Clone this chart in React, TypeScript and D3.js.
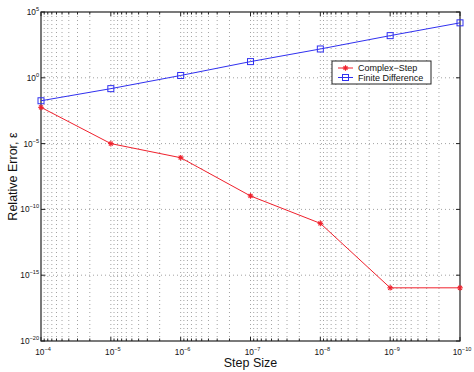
import React from 'react';
import * as d3 from 'd3';

// step sizes, largest to smallest (x axis runs from 1e-4 down to 1e-10)
const stepSizes = [1e-4, 1e-5, 1e-6, 1e-7, 1e-8, 1e-9, 1e-10];
const complexStep = [5.7e-3, 1.0e-5, 8.5e-7, 1.05e-9, 8.7e-12, 1.1e-16, 1.1e-16];
const finiteDifference = [1.8e-2, 1.5e-1, 1.5, 17, 155, 1600, 15000];

const xTickExps = [-4, -5, -6, -7, -8, -9, -10];
const yTickExps = [5, 0, -5, -10, -15, -20];

const seriesNames = ['Complex\u2212Step', 'Finite Difference'];
const red = '#f0202c';
const blue = '#3030f0';
const font = '"Liberation Sans", Arial, Helvetica, sans-serif';

const W = 474;
const H = 372;
const margin = { left: 41, right: 14, top: 12, bottom: 31 };

const Pow: React.FC<{ x: number; y: number; exp: number; anchor: 'middle' | 'end' }> = ({ x, y, exp, anchor }) => (
  <text x={x} y={y} textAnchor={anchor} fontFamily={font} fontSize={8.3} fill="#111">
    10<tspan fontSize={5.6} dy={-4}>{exp < 0 ? '\u2212' + Math.abs(exp) : exp}</tspan>
  </text>
);

const App: React.FC = () => {
  const x = d3.scaleLog().domain([1e-4, 1e-10]).range([margin.left, W - margin.right]);
  const y = d3.scaleLog().domain([1e-20, 1e5]).range([H - margin.bottom, margin.top]);
  const [x0, x1] = x.range();
  const [y0, y1] = y.range();

  const minorX: number[] = [];
  for (let e = -10; e < -4; e++) {
    for (let m = 2; m <= 9; m++) minorX.push(m * Math.pow(10, e));
  }

  const line = d3.line<number>()
    .x((_, i) => x(stepSizes[i]))
    .y(d => y(d));

  const gridStyle = { stroke: '#8a8a8a', strokeWidth: 0.8, strokeDasharray: '1,3' };

  const star = (cx: number, cy: number, key: number) => {
    const r = 2.8;
    return (
      <g key={key} stroke={red} strokeWidth={1.1}>
        <line x1={cx - r} y1={cy} x2={cx + r} y2={cy} />
        <line x1={cx} y1={cy - r} x2={cx} y2={cy + r} />
        <line x1={cx - r * 0.7} y1={cy - r * 0.7} x2={cx + r * 0.7} y2={cy + r * 0.7} />
        <line x1={cx - r * 0.7} y1={cy + r * 0.7} x2={cx + r * 0.7} y2={cy - r * 0.7} />
      </g>
    );
  };
  const square = (cx: number, cy: number, key: number) => (
    <rect key={key} x={cx - 3} y={cy - 3} width={6} height={6} fill="none" stroke={blue} strokeWidth={1} />
  );

  const legX = 332;
  const legY = 61;

  return (
    <svg width={W} height={H} style={{ position: 'absolute', left: 0, top: 0, background: '#fff' }}>
      {/* grid */}
      <g>
        {minorX.map((v, i) => (
          <line key={'mx' + i} x1={x(v)} x2={x(v)} y1={y1} y2={y0} style={gridStyle} />
        ))}
        {xTickExps.slice(1, -1).map(e => (
          <line key={'gx' + e} x1={x(Math.pow(10, e))} x2={x(Math.pow(10, e))} y1={y1} y2={y0} style={gridStyle} />
        ))}
        {yTickExps.slice(1, -1).map(e => (
          <line key={'gy' + e} x1={x0} x2={x1} y1={y(Math.pow(10, e))} y2={y(Math.pow(10, e))} style={gridStyle} />
        ))}
      </g>

      {/* ticks */}
      <g stroke="#222" strokeWidth={1}>
        {xTickExps.map(e => {
          const px = x(Math.pow(10, e));
          return (
            <g key={'tx' + e}>
              <line x1={px} x2={px} y1={y0} y2={y0 - 4} />
              <line x1={px} x2={px} y1={y1} y2={y1 + 4} />
            </g>
          );
        })}
        {minorX.map((v, i) => (
          <g key={'tmx' + i}>
            <line x1={x(v)} x2={x(v)} y1={y0} y2={y0 - 2.5} />
            <line x1={x(v)} x2={x(v)} y1={y1} y2={y1 + 2.5} />
          </g>
        ))}
        {yTickExps.map(e => {
          const py = y(Math.pow(10, e));
          return (
            <g key={'ty' + e}>
              <line x1={x0} x2={x0 + 4} y1={py} y2={py} />
              <line x1={x1} x2={x1 - 4} y1={py} y2={py} />
            </g>
          );
        })}
      </g>

      {/* frame */}
      <rect x={x0} y={y1} width={x1 - x0} height={y0 - y1} fill="none" stroke="#222" strokeWidth={1.2} />

      {/* series */}
      <path d={line(finiteDifference) ?? ''} fill="none" stroke={blue} strokeWidth={1} />
      <path d={line(complexStep) ?? ''} fill="none" stroke={red} strokeWidth={1} />
      {finiteDifference.map((v, i) => square(x(stepSizes[i]), y(v), i))}
      {complexStep.map((v, i) => star(x(stepSizes[i]), y(v), i))}

      {/* tick labels */}
      {xTickExps.map(e => (
        <Pow key={'lx' + e} x={x(Math.pow(10, e)) + 2} y={y0 + 13.5} exp={e} anchor="middle" />
      ))}
      {yTickExps.map(e => (
        <Pow key={'ly' + e} x={x0 - 2} y={y(Math.pow(10, e)) + 3} exp={e} anchor="end" />
      ))}

      {/* axis titles */}
      <text x={(x0 + x1) / 2} y={H - 5.5} textAnchor="middle" fontFamily={font} fontSize={12.5} fill="#111">Step Size</text>
      <text transform={`translate(17, ${(y0 + y1) / 2}) rotate(-90)`} textAnchor="middle" fontFamily={font} fontSize={12.5} fill="#111">
        Relative Error, ε
      </text>

      {/* legend */}
      <g>
        <rect x={legX} y={legY} width={99} height={23} fill="#fff" stroke="#222" strokeWidth={1} />
        <line x1={legX + 6} x2={legX + 21} y1={legY + 7} y2={legY + 7} stroke={red} strokeWidth={1} />
        {star(legX + 13.5, legY + 7, 100)}
        <line x1={legX + 6} x2={legX + 21} y1={legY + 16.5} y2={legY + 16.5} stroke={blue} strokeWidth={1} />
        {square(legX + 13.5, legY + 16.5, 101)}
        <text x={legX + 26} y={legY + 10} fontFamily={font} fontSize={9} fill="#111">{seriesNames[0]}</text>
        <text x={legX + 26} y={legY + 19.5} fontFamily={font} fontSize={9} fill="#111">{seriesNames[1]}</text>
      </g>
    </svg>
  );
};

export default App;
